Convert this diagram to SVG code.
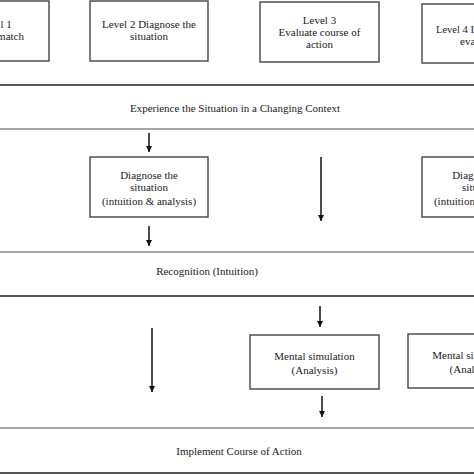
<svg xmlns="http://www.w3.org/2000/svg" width="474" height="474" viewBox="0 0 474 474">
<defs>
<style>
.box{fill:#fff;stroke:#444;stroke-width:1.4}
.t{font-family:"Liberation Serif","Times New Roman",serif;font-size:11px;fill:#222;text-anchor:middle}
.ts{font-family:"Liberation Serif","Times New Roman",serif;font-size:11px;fill:#222}
.dark{stroke:#555;stroke-width:1.8}
.light{stroke:#888;stroke-width:1.5}
.arr{stroke:#111;stroke-width:1.5;fill:none;marker-end:url(#ah)}
</style>
<marker id="ah" markerUnits="userSpaceOnUse" markerWidth="7" markerHeight="6" refX="6" refY="3" orient="auto" viewBox="0 0 7 6">
<path d="M0,0 L6,3 L0,6 Z" fill="#111"/>
</marker>
</defs>
<rect width="474" height="474" fill="#fff"/>
<g id="level1">
<rect class="box" x="-70" y="1" width="119" height="60"/>
<text class="ts" x="0.5" y="28">l 1</text>
<text class="ts" x="24" y="40" text-anchor="end">match</text>
</g>
<g id="level2">
<rect class="box" x="90" y="1" width="118" height="60"/>
<text class="t" x="149" y="28">Level 2 Diagnose the</text>
<text class="t" x="149" y="40">situation</text>
</g>
<g id="level3">
<rect class="box" x="260" y="2" width="119" height="60"/>
<text class="t" x="319.5" y="24">Level 3</text>
<text class="t" x="319.5" y="36">Evaluate course of</text>
<text class="t" x="319.5" y="48">action</text>
</g>
<g id="level4">
<rect class="box" x="422" y="4" width="119" height="59"/>
<text class="ts" x="436" y="33" style="font-size:10.5px">Level 4 I</text>
<text class="ts" x="460" y="45">eva</text>
</g>
<g id="band-experience">
<line class="dark" x1="0" y1="85" x2="474" y2="85"/>
<line class="light" x1="0" y1="129" x2="474" y2="129"/>
<text class="t" x="235" y="112">Experience the Situation in a Changing Context</text>
</g>
<g id="diagnose-left">
<rect class="box" x="90" y="157" width="118" height="60"/>
<text class="t" x="149" y="179">Diagnose the</text>
<text class="t" x="149" y="191">situation</text>
<text class="t" x="149" y="205">(intuition &amp; analysis)</text>
</g>
<g id="diagnose-right">
<rect class="box" x="422" y="157" width="118" height="60"/>
<text class="t" x="481" y="179">Diagnose the</text>
<text class="t" x="481" y="191">situation</text>
<text class="t" x="481" y="205">(intuition &amp; analysis)</text>
</g>
<g id="band-recognition">
<line class="light" x1="0" y1="252" x2="474" y2="252"/>
<line class="dark" x1="0" y1="296" x2="474" y2="296"/>
<text class="t" x="207" y="275">Recognition (Intuition)</text>
</g>
<g id="mental-left">
<rect class="box" x="250" y="335" width="129" height="54"/>
<text class="t" x="314.5" y="360">Mental simulation</text>
<text class="t" x="314.5" y="374">(Analysis)</text>
</g>
<g id="mental-right">
<rect class="box" x="408" y="334" width="129" height="54"/>
<text class="t" x="472.5" y="359">Mental simulation</text>
<text class="t" x="472.5" y="373">(Analysis)</text>
</g>
<g id="band-implement">
<line class="light" x1="0" y1="428" x2="474" y2="428"/>
<line class="dark" x1="0" y1="473" x2="474" y2="473"/>
<text class="t" x="239" y="455">Implement Course of Action</text>
</g>
<g id="connectors">
<line class="arr" x1="149" y1="133" x2="149" y2="152"/>
<line class="arr" x1="149" y1="226" x2="149" y2="246"/>
<line class="arr" x1="321" y1="157" x2="321" y2="221"/>
<line class="arr" x1="152" y1="328" x2="152" y2="392"/>
<line class="arr" x1="320" y1="306" x2="320" y2="327"/>
<line class="arr" x1="322" y1="396" x2="322" y2="417"/>
</g>
</svg>
